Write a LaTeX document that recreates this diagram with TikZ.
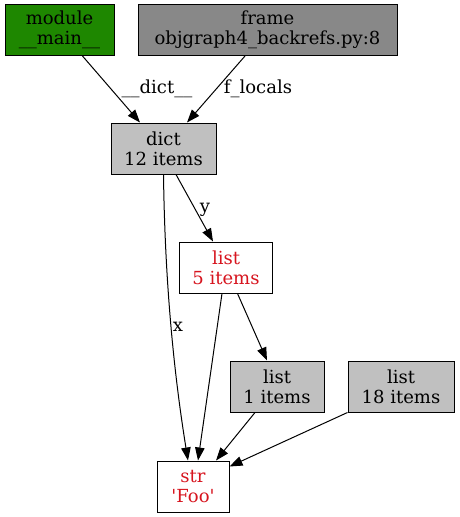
\documentclass[tikz,border=0pt]{standalone}
\usepackage{fontspec}
\setmainfont{DejaVu Serif}
\usetikzlibrary{arrows.meta}
\definecolor{modgreen}{RGB}{30,135,0}
\definecolor{framegray}{RGB}{136,136,136}
\definecolor{objgray}{RGB}{192,192,192}
\definecolor{objred}{RGB}{215,20,30}
\tikzset{
  obj/.style={draw, rectangle, align=center, minimum height=51pt, inner sep=0pt,
    line width=1pt, font=\fontsize{18}{20}\selectfont},
  edge/.style={line width=1pt, -{Triangle[length=13pt,width=9.5pt]}},
  lbl/.style={font=\fontsize{18}{20}\selectfont, inner sep=0pt},
}
\begin{document}
\begin{tikzpicture}[x=1pt,y=-1pt]
  \useasboundingbox (0,0) rectangle (459,517);
  % objects
  \node[obj, fill=modgreen, minimum width=109pt] (module) at (59.5,30) {module\\\_\_main\_\_};
  \node[obj, fill=framegray, minimum width=259pt] (frame) at (267.5,30) {frame\\objgraph4\_backrefs.py:8};
  \node[obj, fill=objgray, minimum width=105pt] (dict) at (163.5,148.5) {dict\\12 items};
  \node[obj, fill=white, text=objred, minimum width=93pt] (listfive) at (226,267.5) {list\\5 items};
  \node[obj, fill=objgray, minimum width=94pt] (listone) at (277,386.5) {list\\1 items};
  \node[obj, fill=objgray, minimum width=106pt] (listeighteen) at (401,386.5) {list\\18 items};
  \node[obj, fill=white, text=objred, minimum width=72pt] (str) at (193,486.5) {str\\\textquotesingle Foo\textquotesingle};
  % references
  \draw[edge] ([xshift=23pt]module.south) -- ([xshift=-23.5pt]dict.north);
  \draw[edge] ([xshift=-22.5pt]frame.south) -- ([xshift=23.5pt]dict.north);
  \draw[edge] ([xshift=12.5pt]dict.south) -- ([xshift=-13pt]listfive.north);
  \draw[edge] (dict.south) .. controls (165,290) and (175,380) .. ([xshift=-5pt]str.north);
  \draw[edge] ([xshift=-4pt]listfive.south) -- ([xshift=5pt]str.north);
  \draw[edge] ([xshift=11.5pt]listfive.south) -- ([xshift=-10pt]listone.north);
  \draw[edge] ([xshift=-22pt]listone.south) -- ([xshift=23pt]str.north);
  \draw[edge] (listeighteen.south west) -- ([yshift=-6pt]str.north east);
  % labels
  \node[lbl] (ldict) at (157,89) {\_\_dict\_\_};
  \node[lbl] (lflocals) at (258,89) {f\_locals};
  \node[lbl] (ly) at (205,210) {y};
  \node[lbl] (lx) at (178,327) {x};
\end{tikzpicture}
\end{document}
